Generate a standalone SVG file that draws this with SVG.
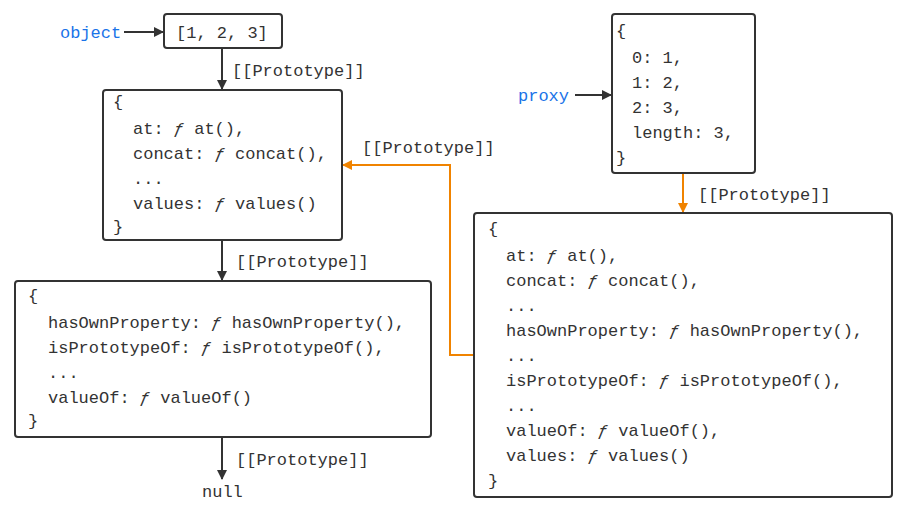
<svg xmlns="http://www.w3.org/2000/svg" width="908" height="511" viewBox="0 0 908 511">
<style>
text{font-family:"Liberation Mono","DejaVu Sans Mono",monospace;font-size:17px;fill:#333}
.box{fill:#fff;stroke:#333;stroke-width:2}
.lbl{fill:#1a73e8}
.c{stroke:#333;stroke-width:2;fill:none}
.o{stroke:#f08300;stroke-width:2;fill:none}
</style>
<defs>
<marker id="ab" markerWidth="10" markerHeight="10" refX="9" refY="5" orient="auto" markerUnits="userSpaceOnUse"><path d="M0,0 L10,5 L0,10 z" fill="#333"/></marker>
<marker id="ao" markerWidth="10" markerHeight="10" refX="9" refY="5" orient="auto" markerUnits="userSpaceOnUse"><path d="M0,0 L10,5 L0,10 z" fill="#f08300"/></marker>
</defs>
<g id="connectors">
<path class="c" d="M124,32 H163" marker-end="url(#ab)"/>
<path class="c" d="M222,48 V89" marker-end="url(#ab)"/>
<path class="c" d="M222,240 V280" marker-end="url(#ab)"/>
<path class="c" d="M222,437 V479" marker-end="url(#ab)"/>
<path class="c" d="M575,95 H611" marker-end="url(#ab)"/>
<path class="o" d="M683,173 V212" marker-end="url(#ao)"/>
<path class="o" d="M474,355 H450 V165 H343" marker-end="url(#ao)"/>
<text x="232" y="76">[[Prototype]]</text>
<text x="236" y="267">[[Prototype]]</text>
<text x="236" y="465">[[Prototype]]</text>
<text x="698" y="200">[[Prototype]]</text>
<text x="362" y="153">[[Prototype]]</text>
</g>
<g id="object"><text class="lbl" x="60" y="38">object</text></g>
<g id="proxy"><text class="lbl" x="518" y="101">proxy</text></g>
<g id="null"><text x="202" y="497">null</text></g>
<g id="array"><rect class="box" x="164" y="14" width="118" height="34" rx="3"/><text x="176" y="38">[1, 2, 3]</text></g>
<g id="arrayProto"><rect class="box" x="103" y="90" width="239" height="150" rx="3"/>
<text x="113" y="107">{</text><text x="133" y="134">at: <tspan font-style="italic">ƒ</tspan> at(),</text><text x="133" y="159">concat: <tspan font-style="italic">ƒ</tspan> concat(),</text><text x="133" y="184">...</text><text x="133" y="209">values: <tspan font-style="italic">ƒ</tspan> values()</text><text x="113" y="232">}</text></g>
<g id="objectProto"><rect class="box" x="15" y="281" width="416" height="156" rx="3"/>
<text x="28" y="301">{</text><text x="48" y="328">hasOwnProperty: <tspan font-style="italic">ƒ</tspan> hasOwnProperty(),</text><text x="48" y="353">isPrototypeOf: <tspan font-style="italic">ƒ</tspan> isPrototypeOf(),</text><text x="48" y="378">...</text><text x="48" y="403">valueOf: <tspan font-style="italic">ƒ</tspan> valueOf()</text><text x="28" y="426">}</text></g>
<g id="proxyTarget"><rect class="box" x="612" y="14" width="143" height="159" rx="3"/>
<text x="616" y="36">{</text><text x="632" y="63">0: 1,</text><text x="632" y="88">1: 2,</text><text x="632" y="113">2: 3,</text><text x="632" y="138">length: 3,</text><text x="616" y="163">}</text></g>
<g id="proxyProto"><rect class="box" x="474" y="213" width="418" height="284" rx="3"/>
<text x="488" y="234">{</text>
<text x="506" y="261">at: <tspan font-style="italic">ƒ</tspan> at(),</text>
<text x="506" y="286">concat: <tspan font-style="italic">ƒ</tspan> concat(),</text>
<text x="506" y="311">...</text>
<text x="506" y="336">hasOwnProperty: <tspan font-style="italic">ƒ</tspan> hasOwnProperty(),</text>
<text x="506" y="361">...</text>
<text x="506" y="386">isPrototypeOf: <tspan font-style="italic">ƒ</tspan> isPrototypeOf(),</text>
<text x="506" y="411">...</text>
<text x="506" y="436">valueOf: <tspan font-style="italic">ƒ</tspan> valueOf(),</text>
<text x="506" y="461">values: <tspan font-style="italic">ƒ</tspan> values()</text>
<text x="488" y="486">}</text></g>
</svg>
